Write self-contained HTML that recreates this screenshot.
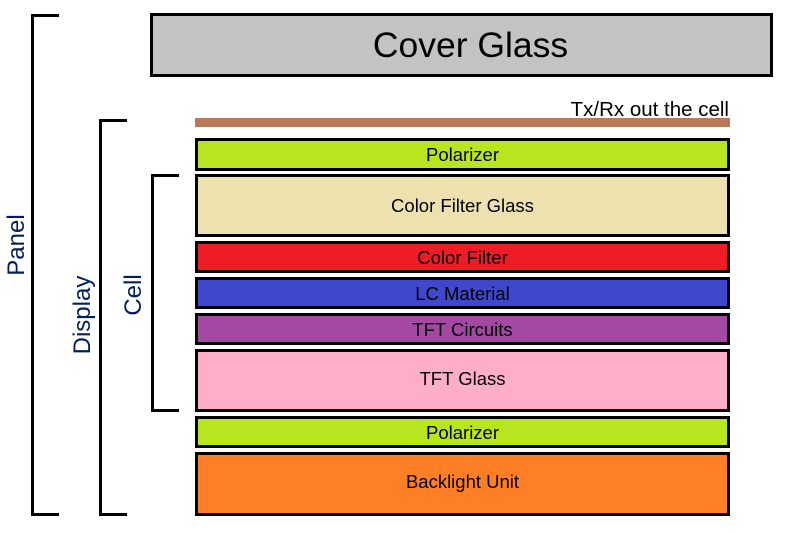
<!DOCTYPE html>
<html><head><style>
body{margin:0;width:786px;height:533px;background:#fff;position:relative;overflow:hidden;font-family:"Liberation Sans",Arial,sans-serif;}
.b{position:absolute;box-sizing:border-box;border:3px solid #000;display:flex;align-items:center;justify-content:center;font-size:18.5px;color:#000;left:195px;width:535px;padding-top:1px;}
.t{padding-top:0;}
.l{position:absolute;background:#000;}
.r{position:absolute;font-size:24px;color:#001e5a;transform:translate(-50%,-50%) rotate(-90deg);white-space:nowrap;}
</style></head><body>
<div class="b t" style="left:150px;width:623px;top:13px;height:64px;background:#c3c3c3;font-size:35.5px;padding-left:18px;">Cover Glass</div>
<div style="position:absolute;right:57px;top:98px;font-size:20.5px;">Tx/Rx out the cell</div>
<div style="position:absolute;left:195px;top:118px;width:535px;height:9px;background:#b87a5a;"></div>
<div class="b" style="top:138px;height:33px;background:#b8e61e;">Polarizer</div>
<div class="b t" style="top:174px;height:63px;background:#eee1b0;">Color Filter Glass</div>
<div class="b" style="top:241px;height:32px;background:#ee1c25;">Color Filter</div>
<div class="b" style="top:277px;height:32px;background:#3f48cc;">LC Material</div>
<div class="b" style="top:313px;height:32px;background:#a349a3;">TFT Circuits</div>
<div class="b t" style="top:349px;height:63px;background:#ffaec9;padding-bottom:3px;">TFT Glass</div>
<div class="b" style="top:416px;height:32px;background:#b8e61e;">Polarizer</div>
<div class="b t" style="top:452px;height:64px;background:#ff7f27;padding-bottom:4px;">Backlight Unit</div>
<div class="l" style="left:31px;top:14px;width:3px;height:502px;"></div>
<div class="l" style="left:31px;top:14px;width:28px;height:3px;"></div>
<div class="l" style="left:31px;top:513px;width:28px;height:3px;"></div>
<div class="l" style="left:99px;top:119px;width:3px;height:397px;"></div>
<div class="l" style="left:99px;top:119px;width:28px;height:3px;"></div>
<div class="l" style="left:99px;top:513px;width:28px;height:3px;"></div>
<div class="l" style="left:151px;top:174px;width:3px;height:238px;"></div>
<div class="l" style="left:151px;top:174px;width:28px;height:3px;"></div>
<div class="l" style="left:151px;top:409px;width:28px;height:3px;"></div>
<div class="r" style="left:17px;top:245px;">Panel</div>
<div class="r" style="left:83px;top:315px;">Display</div>
<div class="r" style="left:134px;top:295px;">Cell</div>
</body></html>
